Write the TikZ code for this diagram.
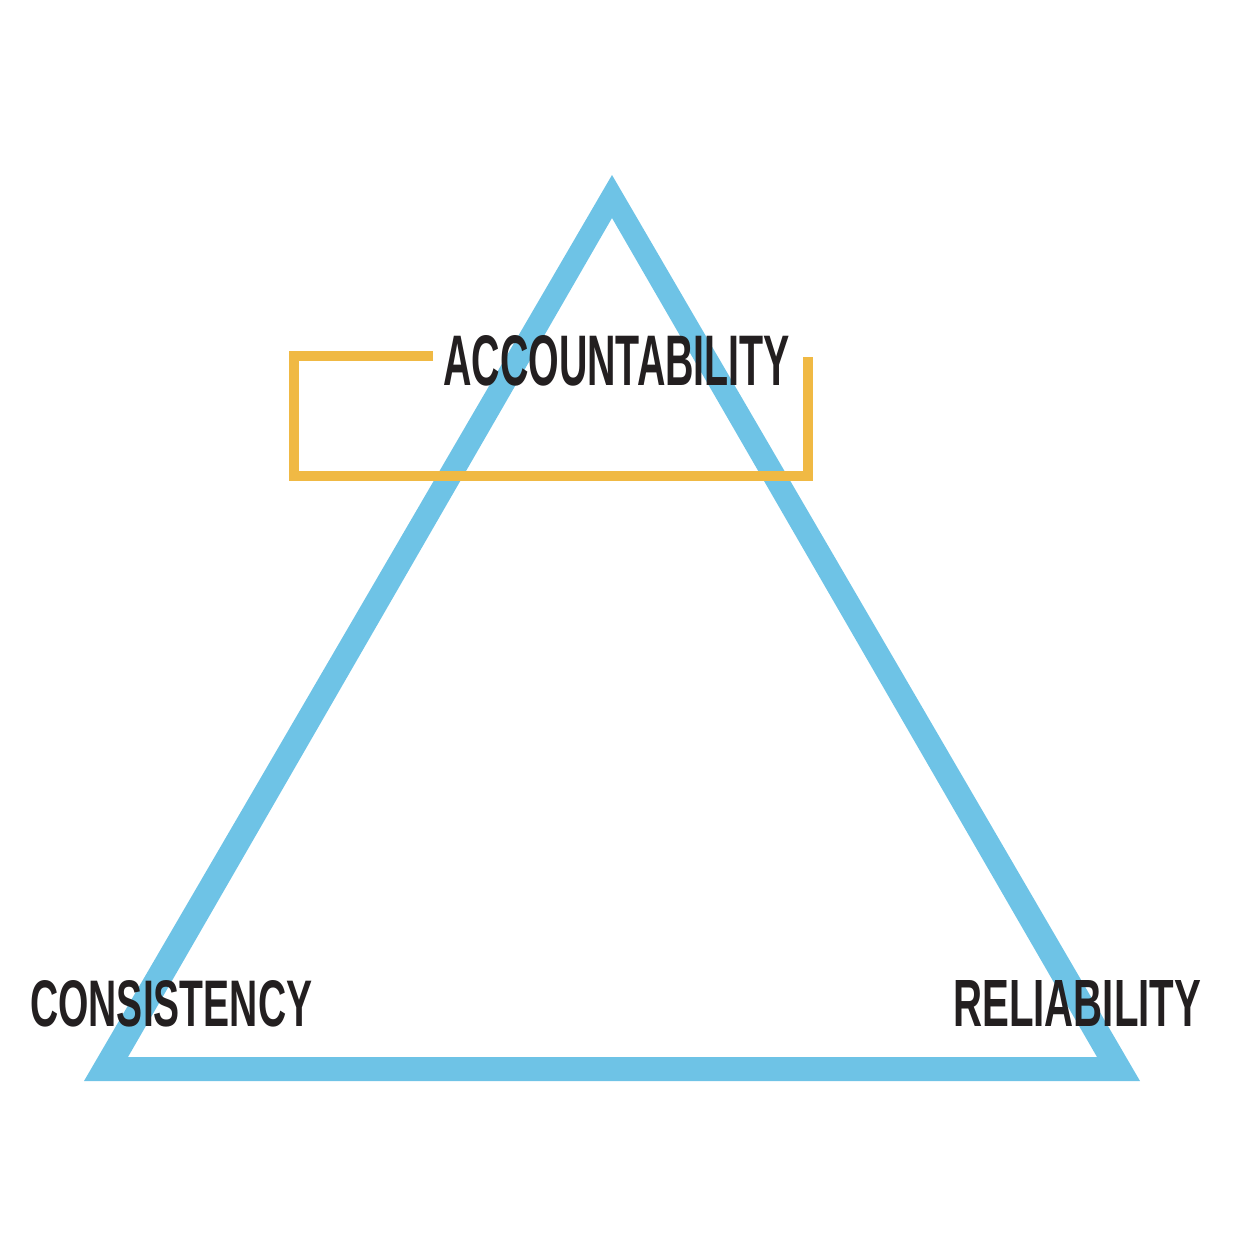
\documentclass[tikz,border=0pt]{standalone}
\usepackage{fontspec}
\setmainfont{Liberation Sans}
\definecolor{tri}{HTML}{6EC3E6}
\definecolor{brk}{HTML}{F0B944}
\definecolor{txt}{HTML}{231F20}
\tikzset{lbl/.style={inner sep=0pt,text=txt,font=\bfseries}}
\begin{document}
\begin{tikzpicture}[x=1pt,y=-1pt]
\useasboundingbox (0,0) rectangle (1251,1250);
\fill[tri,even odd rule] (612,175) -- (1140,1081) -- (84,1081) -- cycle
  (612,218) -- (1097,1057) -- (128,1057) -- cycle;
\coordinate (b1) at (433,356);
\coordinate (b2) at (808,357);
\draw[brk,line width=10pt] (b1) -- (294,356) -- (294,476) -- (808,476) -- (b2);
\node[lbl,anchor=north west] (acc) at (443,335) {\resizebox{347pt}{50pt}{ACCOUNTABILITY}};
\node[lbl,anchor=north west] (con) at (30,980) {\resizebox{282pt}{46pt}{CONSISTENCY}};
\node[lbl,anchor=north west] (rel) at (953,980) {\resizebox{248pt}{46pt}{RELIABILITY}};
\end{tikzpicture}
\end{document}
